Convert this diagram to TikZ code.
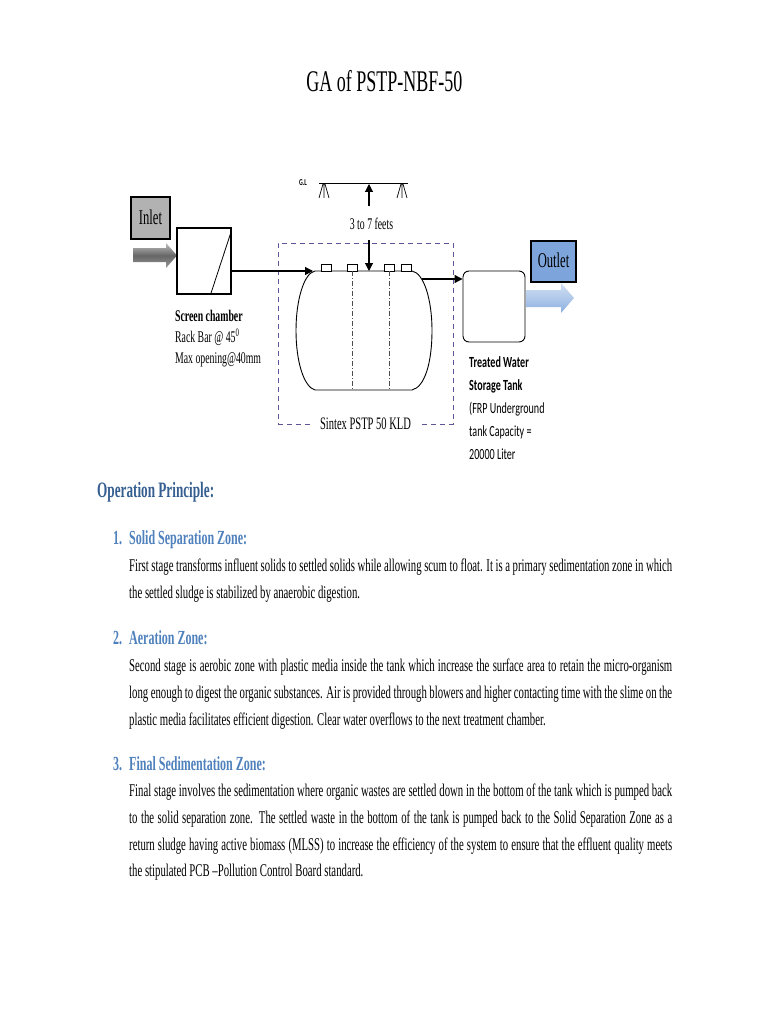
\documentclass[tikz,border=0pt]{standalone}
\usepackage{fontspec}
\setmainfont{Liberation Serif}
\newfontfamily\tallfont[FakeStretch=0.6]{Liberation Serif}
\newfontfamily\calibrifont[FakeStretch=0.65]{Carlito}
\usepackage{tikz}
\usetikzlibrary{positioning,arrows.meta,calc}
\definecolor{HeadBlue}{RGB}{54,95,145}
\definecolor{ItemBlue}{RGB}{79,129,189}
\definecolor{DashPurple}{RGB}{96,84,150}
\definecolor{OutletBlue}{RGB}{125,165,220}

\begin{document}
\begin{tikzpicture}[
  x=1pt,y=-1pt,
  flow/.style={-{Triangle[length=8pt,width=8pt]},line width=1.1pt},
  title/.style={font=\tallfont\fontsize{30}{32}\selectfont,inner sep=0pt},
  lab/.style={font=\tallfont\fontsize{16.3}{21}\selectfont,inner sep=0pt,align=left,anchor=north west},
  sanslab/.style={font=\calibrifont\fontsize{15.5}{23}\selectfont,inner sep=0pt,align=left,anchor=north west},
  namebox/.style={draw=black,line width=1.1pt,inner sep=0pt,font=\tallfont\fontsize{21}{22}\selectfont},
  lid/.style={draw=black,fill=white,minimum width=10pt,minimum height=7pt,inner sep=0pt},
  partition/.style={dash pattern=on 5pt off 2pt on 1pt off 2pt,line width=0.7pt,black!70},
  heading/.style={font=\tallfont\bfseries\fontsize{22}{23}\selectfont,text=HeadBlue,inner sep=0pt,anchor=base west},
  zone/.style={font=\tallfont\bfseries\fontsize{20}{20}\selectfont,text=ItemBlue,inner sep=0pt,anchor=base west},
  body/.style={font=\tallfont\fontsize{17.9}{26.6}\selectfont,inner sep=0pt,text width=543pt,align=justify,anchor=north west},
]
\useasboundingbox (0,0) rectangle (768,1024);
\fill[white] (0,0) rectangle (768,1024);

\node[title] (title) at (384.5,81) {GA of PSTP-NBF-50};

% ground level
\coordinate (glleft) at (319,184);
\coordinate (glright) at (408,184);
\coordinate (glmid) at (369,184);
\node[font=\calibrifont\bfseries\fontsize{9}{9}\selectfont,inner sep=0pt] (gl) at (303,183) {G.L};
\draw[line width=1pt] (glleft) -- (glright);
\foreach \x in {319,397}{
  \draw[line width=0.7pt] (\x+4,184) -- (\x,198) (\x+5,184) -- (\x+5,198) (\x+6,184) -- (\x+10,198);
}
\node[lab,anchor=center] (depth) at (371.5,224) {3 to 7 feets};
\coordinate (depthup) at (369,206);
\draw[flow] (depthup) -- (glmid);

% inlet side
\node[namebox,fill=black!30,minimum width=39pt,minimum height=42pt] (inlet) at (150.5,218) {\raisebox{2pt}{Inlet}};
\shade[top color=black!25,bottom color=black!40,middle color=black!60]
  (133,248) -- (166,248) -- (166,243) -- (177,255.5) -- (166,268) -- (166,262) -- (133,262) -- cycle;
\node[draw=black,line width=1.1pt,minimum width=54pt,minimum height=66pt,inner sep=0pt] (screen) at (204,261) {};
\draw[line width=0.8pt] ($(screen.north east)+(0,3)$) -- ($(screen.south east)+(-21,0)$);
\node[lab] (screentext) at (175,310) {\textbf{Screen chamber}\\Rack Bar @ 45\textsuperscript{0}\\Max opening@40mm};

% main tank
\node[minimum width=136pt,minimum height=119pt,inner sep=0pt] (tank) at (364,330.5) {};
\node[draw=DashPurple,dash pattern=on 5pt off 4pt,line width=0.8pt,minimum width=175pt,minimum height=181pt,inner sep=0pt] (package) at (365.5,333.5) {};
\node[font=\tallfont\fontsize{17.5}{20}\selectfont,fill=white,inner sep=8pt] (packagetext) at (365.5,424) {Sintex PSTP 50 KLD};
\draw[line width=0.9pt] (315,271) -- (412,271) .. controls (424,273) and (432,300) .. (432,330.5)
  .. controls (432,362) and (425,387) .. (412,390) -- (315,390)
  .. controls (304,387) and (296,362) .. (296,330.5) .. controls (296,300) and (304,273) .. (315,271) -- cycle;
\node[lid] (lid1) at (326,267.5) {};
\node[lid] (lid2) at (352.5,267.5) {};
\node[lid] (lid3) at (389.5,267.5) {};
\node[lid] (lid4) at (406,267.5) {};
\coordinate (tanktop) at (369,271);
\coordinate (tankin) at (313,271);
\coordinate (tankout) at (422,279);
\coordinate (depthdown) at (369,240);
\draw[partition] (lid2.south) -- (lid2.south |- tank.south);
\draw[partition] (lid3.south) -- (lid3.south |- tank.south);
\draw[flow] (depthdown) -- (tanktop);
\draw[flow] (screen.east |- tankin) -- (tankin);

% outlet side
\node[draw=black,line width=0.9pt,rounded corners=6pt,minimum width=62pt,minimum height=71pt,inner sep=0pt] (storage) at (494,306.5) {};
\draw[flow] (tankout) -- (storage.west |- tankout);
\node[namebox,fill=OutletBlue,minimum width=45pt,minimum height=41pt] (outlet) at (553.5,261.5) {\raisebox{2pt}{Outlet}};
\shade[top color=OutletBlue!35,bottom color=OutletBlue!90,middle color=OutletBlue!60]
  (526,290) -- (561,290) -- (561,283) -- (574,298) -- (561,313) -- (561,307) -- (526,307) -- cycle;
\node[sanslab] (storagetext) at (469,356) {\textbf{Treated Water}\\\textbf{Storage Tank}\\(FRP Underground\\tank Capacity =\\20000 Liter};

% text block
\node[heading] (principle) at (97,497) {Operation Principle:};
\node[zone] (zonenum1) at (113,544) {1.};
\node[zone] (zone1) at (129,544) {Solid Separation Zone:};
\node[body] (body1) at (129,559) {First stage transforms influent solids to settled solids while allowing scum to float. It is a primary sedimentation zone in which\linebreak the settled sludge is stabilized by anaerobic digestion.};
\node[zone] (zonenum2) at (113,644) {2.};
\node[zone] (zone2) at (129,644) {Aeration Zone:};
\node[body] (body2) at (129,659) {Second stage is aerobic zone with plastic media inside the tank which increase the surface area to retain the micro-organism\linebreak long enough to digest the organic substances. Air is provided through blowers and higher contacting time with the slime on the\linebreak plastic media facilitates efficient digestion. Clear water overflows to the next treatment chamber.};
\node[zone] (zonenum3) at (113,770) {3.};
\node[zone] (zone3) at (129,770) {Final Sedimentation Zone:};
\node[body] (body3) at (129,784) {Final stage involves the sedimentation where organic wastes are settled down in the bottom of the tank which is pumped back\linebreak to the solid separation zone. The settled waste in the bottom of the tank is pumped back to the Solid Separation Zone as a\linebreak return sludge having active biomass (MLSS) to increase the efficiency of the system to ensure that the effluent quality meets\linebreak the stipulated PCB –Pollution Control Board standard.};
\end{tikzpicture}
\end{document}
